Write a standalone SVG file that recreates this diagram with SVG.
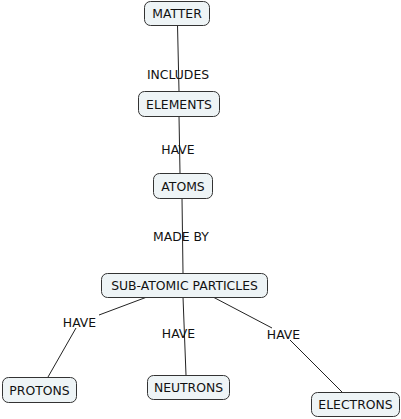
<svg xmlns="http://www.w3.org/2000/svg" width="401" height="419" viewBox="0 0 401 419">
<style>
.n rect{fill:#EEF4F6;stroke:#333;stroke-width:1}
text{font-family:"DejaVu Sans",Verdana,sans-serif;font-size:12.4px;fill:#111;text-anchor:middle;dominant-baseline:central}
.c line{stroke:#222;stroke-width:1}
</style>
<rect width="401" height="419" fill="#fff"/>
<g class="c">
<line x1="177.5" y1="25" x2="179" y2="91"/>
<line x1="179" y1="116" x2="180" y2="173"/>
<line x1="182" y1="198" x2="183" y2="273"/>
<line x1="147" y1="297" x2="99" y2="315"/>
<line x1="76" y1="328" x2="48" y2="377"/>
<line x1="183" y1="297" x2="186" y2="375"/>
<line x1="213" y1="297" x2="272" y2="328"/>
<line x1="290" y1="340" x2="342" y2="392"/>
</g>
<g class="l">
<text x="178" y="74">INCLUDES</text>
<text x="178" y="149">HAVE</text>
<text x="181" y="236">MADE BY</text>
<text x="79.5" y="322">HAVE</text>
<text x="178.5" y="333">HAVE</text>
<text x="283.5" y="334">HAVE</text>
</g>
<g id="matter" class="n"><rect x="144.5" y="1.5" width="65" height="24" rx="6"/><text x="177" y="13.5">MATTER</text></g>
<g id="elements" class="n"><rect x="138.5" y="91.5" width="81" height="25" rx="6"/><text x="179" y="104">ELEMENTS</text></g>
<g id="atoms" class="n"><rect x="153.5" y="173.5" width="59" height="25" rx="6"/><text x="183" y="186">ATOMS</text></g>
<g id="subatomic" class="n"><rect x="101.5" y="273.5" width="166" height="24" rx="6"/><text x="184.5" y="285.5">SUB-ATOMIC PARTICLES</text></g>
<g id="protons" class="n"><rect x="2.5" y="377.5" width="74" height="25" rx="6"/><text x="39.5" y="390">PROTONS</text></g>
<g id="neutrons" class="n"><rect x="147.5" y="375.5" width="82" height="24" rx="6"/><text x="188.5" y="387.5">NEUTRONS</text></g>
<g id="electrons" class="n"><rect x="311.5" y="392.5" width="88" height="24" rx="6"/><text x="355.5" y="404.5">ELECTRONS</text></g>
</svg>
